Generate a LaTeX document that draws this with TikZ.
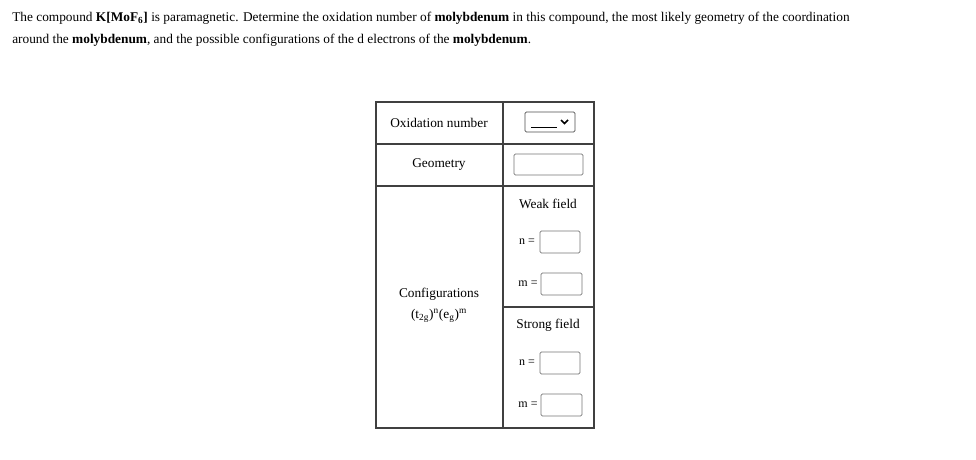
\documentclass[tikz,border=0pt]{standalone}
\usepackage{fontspec}
\setmainfont{Liberation Serif}
\begin{document}
\begin{tikzpicture}[x=0.75pt,y=-0.75pt,
  txt/.style={inner sep=0pt,font=\fontsize{10}{12}\selectfont},
  cell/.style={draw=black!75,line width=1.1pt},
  inp/.style={draw=black!55,line width=0.6pt,rounded corners=1pt}]
\useasboundingbox (0,0) rectangle (976,460);
\node[txt,anchor=west] (l1) at (12,18) {The compound \textbf{K[MoF\textsubscript{6}]} is paramagnetic. Determine the oxidation number of \textbf{molybdenum} in this compound, the most likely geometry of the coordination};
\node[txt,anchor=west] (l2) at (12,40) {around the \textbf{molybdenum}, and the possible configurations of the d electrons of the \textbf{molybdenum}.};
% table
\draw[cell] (376,102) rectangle (594,428);
\draw[cell] (503,102) -- (503,428);
\draw[cell] (376,144) -- (594,144);
\draw[cell] (376,186) -- (594,186);
\draw[cell] (503,307) -- (594,307);
\node[txt] (ox) at (439,123) {Oxidation number};
\node[txt] (geo) at (439,165) {Geometry};
\node[txt] (conf) at (439,294) {Configurations};
\node[txt] (tg) at (439,316) {(t\textsubscript{2g})\textsuperscript{n}(e\textsubscript{g})\textsuperscript{m}};
% dropdown
\draw[inp,draw=black!70] (525,112) rectangle (575,132);
\draw[line width=0.6pt] (531,127) -- (557,127);
\draw[line width=1.3pt] (561,120) -- (564.5,123.5) -- (568,120);
\draw[inp] (514,154) rectangle (583,175);
\node[txt] (wf) at (548,204) {Weak field};
\node[txt] (sf) at (548,325) {Strong field};
\node[txt,font=\fontsize{9}{11}\selectfont] (n1) at (527,242) {n =};
\draw[inp] (540,231) rectangle (580,253);
\node[txt,font=\fontsize{9}{11}\selectfont] (m1) at (528,284) {m =};
\draw[inp] (541,273) rectangle (582,295);
\node[txt,font=\fontsize{9}{11}\selectfont] (n2) at (527,363) {n =};
\draw[inp] (540,352) rectangle (580,374);
\node[txt,font=\fontsize{9}{11}\selectfont] (m2) at (528,405) {m =};
\draw[inp] (541,394) rectangle (582,416);
\end{tikzpicture}
\end{document}
